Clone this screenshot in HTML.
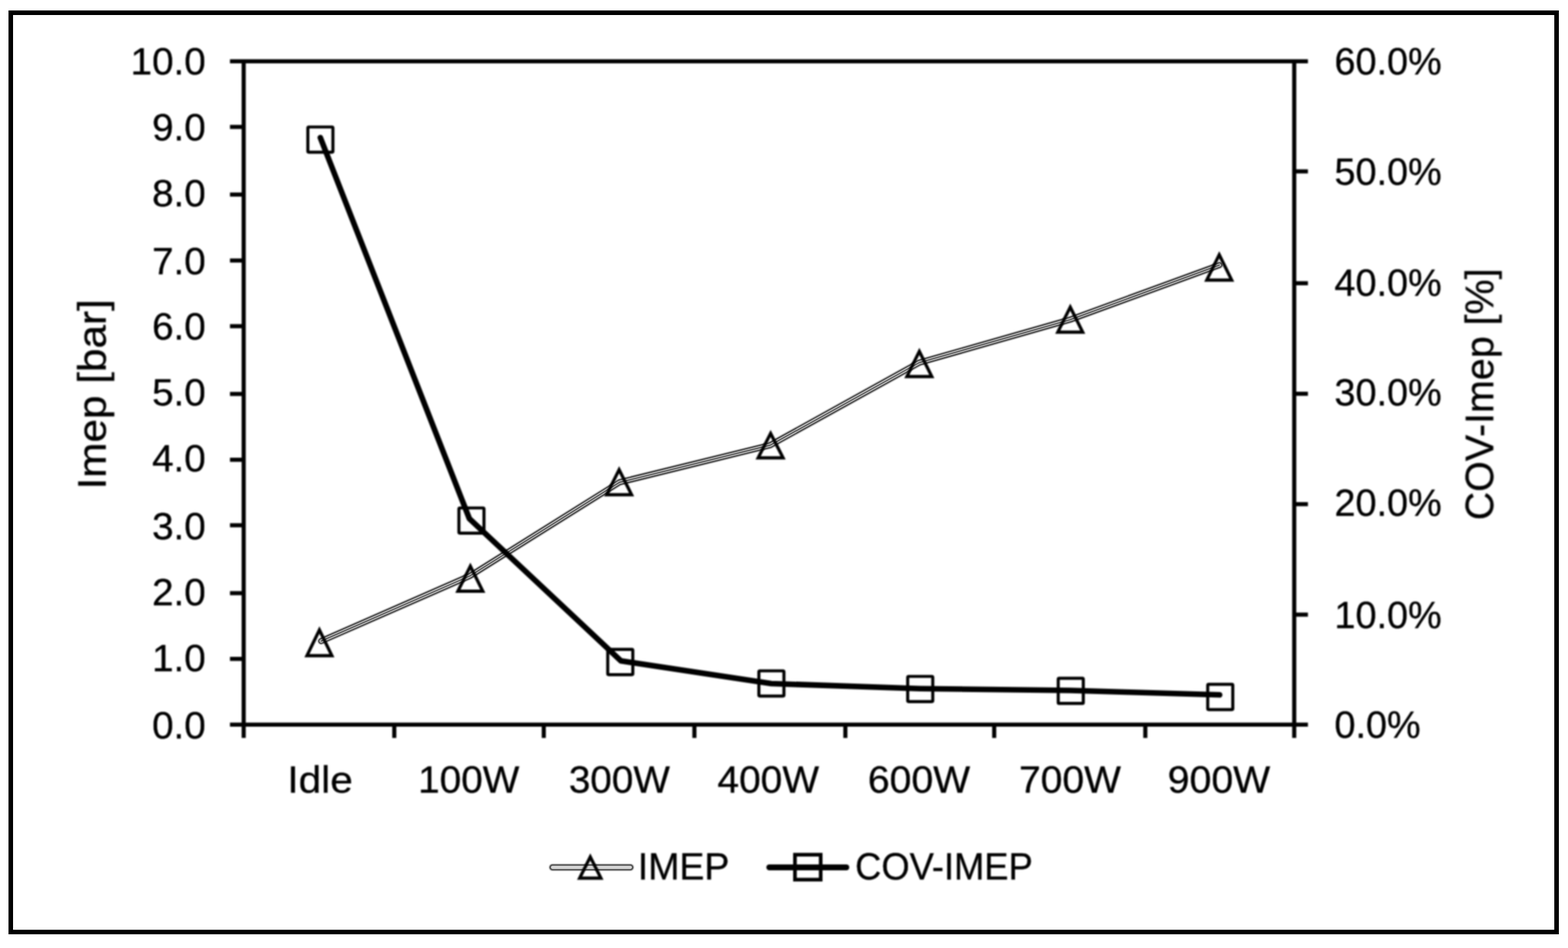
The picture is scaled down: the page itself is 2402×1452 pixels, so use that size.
<!DOCTYPE html>
<html lang="en">
<head>
<meta charset="utf-8">
<title>IMEP and COV-IMEP chart</title>
<style>
html,body{margin:0;padding:0;background:#fff;}
body{width:2402px;height:1452px;overflow:hidden;}
svg{display:block;}
text{font-family:"Liberation Sans", "DejaVu Sans", sans-serif;fill:#000;stroke:#000;stroke-width:0.45px;}
.t{font-size:57.8px;}
.ti{font-size:62px;}
.ax{stroke:#000;stroke-width:6.3;fill:none;stroke-linecap:butt;}
.mk{stroke:#000;fill:none;stroke-linejoin:miter;}
</style>
</head>
<body>
<svg width="2402" height="1452" viewBox="0 0 2402 1452">
<rect x="0" y="0" width="2402" height="1452" fill="#fff"/>
<defs><filter id="soft" filterUnits="userSpaceOnUse" x="0" y="0" width="2402" height="1452"><feGaussianBlur stdDeviation="0.95"/></filter><filter id="soft2" filterUnits="userSpaceOnUse" x="0" y="0" width="2402" height="1452"><feGaussianBlur stdDeviation="0.9"/></filter></defs>
<rect x="16.5" y="19.5" width="2368" height="1408" fill="none" stroke="#000" stroke-width="7"/>
<g filter="url(#soft)">

<g class="ax">
<line x1="352.3" y1="93.9" x2="2003.6" y2="93.9"/>
<line x1="352.3" y1="1109.8" x2="2003.6" y2="1109.8"/>
<line x1="373.3" y1="93.9" x2="373.3" y2="1130.3"/>
<line x1="1982.6" y1="93.9" x2="1982.6" y2="1130.3"/>
<line x1="352.3" y1="194.4" x2="373.3" y2="194.4"/>
<line x1="352.3" y1="298.0" x2="373.3" y2="298.0"/>
<line x1="352.3" y1="399.0" x2="373.3" y2="399.0"/>
<line x1="352.3" y1="499.6" x2="373.3" y2="499.6"/>
<line x1="352.3" y1="603.4" x2="373.3" y2="603.4"/>
<line x1="352.3" y1="704.2" x2="373.3" y2="704.2"/>
<line x1="352.3" y1="804.5" x2="373.3" y2="804.5"/>
<line x1="352.3" y1="908.5" x2="373.3" y2="908.5"/>
<line x1="352.3" y1="1009.2" x2="373.3" y2="1009.2"/>
<line x1="1982.6" y1="262.5" x2="2003.6" y2="262.5"/>
<line x1="1982.6" y1="433.8" x2="2003.6" y2="433.8"/>
<line x1="1982.6" y1="603.1" x2="2003.6" y2="603.1"/>
<line x1="1982.6" y1="772.2" x2="2003.6" y2="772.2"/>
<line x1="1982.6" y1="941.4" x2="2003.6" y2="941.4"/>
<line x1="604.0" y1="1109.8" x2="604.0" y2="1130.3"/>
<line x1="833.0" y1="1109.8" x2="833.0" y2="1130.3"/>
<line x1="1063.75" y1="1109.8" x2="1063.75" y2="1130.3"/>
<line x1="1295.0" y1="1109.8" x2="1295.0" y2="1130.3"/>
<line x1="1523.0" y1="1109.8" x2="1523.0" y2="1130.3"/>
<line x1="1754.5" y1="1109.8" x2="1754.5" y2="1130.3"/>
</g>
<text class="t" text-anchor="end" transform="translate(315.2 114.2) scale(1.0243 1)">10.0</text>
<text class="t" text-anchor="end" transform="translate(315.2 215.3) scale(1.0243 1)">9.0</text>
<text class="t" text-anchor="end" transform="translate(315.2 315.9) scale(1.0243 1)">8.0</text>
<text class="t" text-anchor="end" transform="translate(315.2 419.8) scale(1.0243 1)">7.0</text>
<text class="t" text-anchor="end" transform="translate(315.2 520.3) scale(1.0243 1)">6.0</text>
<text class="t" text-anchor="end" transform="translate(315.2 621.1) scale(1.0243 1)">5.0</text>
<text class="t" text-anchor="end" transform="translate(315.2 721.9) scale(1.0243 1)">4.0</text>
<text class="t" text-anchor="end" transform="translate(315.2 825.9) scale(1.0243 1)">3.0</text>
<text class="t" text-anchor="end" transform="translate(315.2 926.5) scale(1.0243 1)">2.0</text>
<text class="t" text-anchor="end" transform="translate(315.2 1027.8) scale(1.0243 1)">1.0</text>
<text class="t" text-anchor="end" transform="translate(315.2 1131.1) scale(1.0243 1)">0.0</text>
<text class="t" text-anchor="start" transform="translate(2044.3 113.8) scale(1.002 1)">60.0%</text>
<text class="t" text-anchor="start" transform="translate(2044.3 283.3) scale(1.002 1)">50.0%</text>
<text class="t" text-anchor="start" transform="translate(2044.3 452.9) scale(1.002 1)">40.0%</text>
<text class="t" text-anchor="start" transform="translate(2044.3 621.4) scale(1.002 1)">30.0%</text>
<text class="t" text-anchor="start" transform="translate(2044.3 790.1) scale(1.002 1)">20.0%</text>
<text class="t" text-anchor="start" transform="translate(2044.3 961.9) scale(1.002 1)">10.0%</text>
<text class="t" text-anchor="start" transform="translate(2044.3 1130.4) scale(1.002 1)">0.0%</text>
<text class="t" text-anchor="middle" transform="translate(490.4 1214) scale(1.0749 1)">Idle</text>
<text class="t" text-anchor="middle" transform="translate(718.0 1214) scale(1.0273 1)">100W</text>
<text class="t" text-anchor="middle" transform="translate(948.8 1214) scale(1.0253 1)">300W</text>
<text class="t" text-anchor="middle" transform="translate(1176.9 1214) scale(1.0303 1)">400W</text>
<text class="t" text-anchor="middle" transform="translate(1407.8 1214) scale(1.0374 1)">600W</text>
<text class="t" text-anchor="middle" transform="translate(1639.0 1214) scale(1.0334 1)">700W</text>
<text class="t" text-anchor="middle" transform="translate(1867.3 1214) scale(1.0394 1)">900W</text>
<text class="ti" text-anchor="middle" transform="translate(161.9 604.0) rotate(-90) scale(1.044 1)">Imep [bar]</text>
<text class="ti" text-anchor="middle" transform="translate(2287.4 604.0) rotate(-90) scale(0.974 1)">COV-Imep [%]</text>
<text class="t" text-anchor="start" transform="translate(977.0 1347) scale(0.9939 1)">IMEP</text>
<text class="t" text-anchor="start" transform="translate(1310.0 1347) scale(0.9625 1)">COV-IMEP</text>
</g>
<g fill="none" stroke-linejoin="round" stroke-linecap="round" filter="url(#soft2)">
<polyline points="492,981.9 720,882 949,738.7 1180,681.8 1408,555.5 1639,489.7 1868,406" stroke="#000" stroke-width="9.0"/>
<polyline points="492,981.9 720,882 949,738.7 1180,681.8 1408,555.5 1639,489.7 1868,406" stroke="#fff" stroke-width="4.4"/>
<polyline points="492,981.9 720,882 949,738.7 1180,681.8 1408,555.5 1639,489.7 1868,406" stroke="#000" stroke-width="2.0"/>
</g>
<g fill="none" stroke-linejoin="round" stroke-linecap="round" opacity="0.5">
<polyline points="492,981.9 720,882 949,738.7 1180,681.8 1408,555.5 1639,489.7 1868,406" stroke="#2a2a2a" stroke-width="8.6"/>
<polyline points="492,981.9 720,882 949,738.7 1180,681.8 1408,555.5 1639,489.7 1868,406" stroke="#d8d8d8" stroke-width="5.0"/>
<polyline points="492,981.9 720,882 949,738.7 1180,681.8 1408,555.5 1639,489.7 1868,406" stroke="#2a2a2a" stroke-width="1.7"/>
</g>
<g filter="url(#soft)">
<polyline points="490.7,210.7 719,794.4 951.3,1012.3 1181.5,1047 1409.5,1054.7 1640,1057.5 1868.3,1064.3" fill="none" stroke="#000" stroke-width="8.6" stroke-linejoin="round" stroke-linecap="round"/>
<g class="mk" stroke-width="4.9">
<path d="M489.3 964.9 L508.4 1004.25 L470.2 1004.25 Z"/>
<path d="M720.5 867.2 L739.6 905.55 L701.4 905.55 Z"/>
<path d="M948.4 719.4 L967.5 757.75 L929.3 757.75 Z"/>
<path d="M1180.5 663.9 L1199.6 701.25 L1161.4 701.25 Z"/>
<path d="M1408.3 538.15 L1427.4 576.75 L1389.2 576.75 Z"/>
<path d="M1639.5 470.4 L1658.6 508.75 L1620.4 508.75 Z"/>
<path d="M1867.7 390.2 L1886.8 428.95 L1848.6 428.95 Z"/>
</g>
<g class="mk" stroke-width="4.7">
<rect x="471.6" y="194.5" width="38.4" height="38.6" rx="1.5"/>
<rect x="703.0" y="778.0" width="38.4" height="38.6" rx="1.5"/>
<rect x="931.0" y="994.7" width="38.4" height="38.6" rx="1.5"/>
<rect x="1162.5" y="1027.5" width="38.4" height="38.6" rx="1.5"/>
<rect x="1390.5" y="1036.0" width="38.4" height="38.6" rx="1.5"/>
<rect x="1621.1" y="1038.8" width="38.4" height="38.6" rx="1.5"/>
<rect x="1850.1" y="1048.2" width="38.4" height="38.6" rx="1.5"/>
</g>
</g>
<g filter="url(#soft2)">
<line x1="846.3" y1="1328.5" x2="965.7" y2="1328.5" stroke="#000" stroke-width="9.2" stroke-linecap="round"/>
<line x1="846.3" y1="1328.5" x2="965.7" y2="1328.5" stroke="#fff" stroke-width="4.4" stroke-linecap="round"/>
<line x1="846.3" y1="1328.5" x2="965.7" y2="1328.5" stroke="#000" stroke-width="1.0" stroke-linecap="round"/>
</g>
<g opacity="0.5">
<line x1="846.3" y1="1328.5" x2="965.7" y2="1328.5" stroke="#2a2a2a" stroke-width="8.8" stroke-linecap="round"/>
<line x1="846.3" y1="1328.5" x2="965.7" y2="1328.5" stroke="#e4e4e4" stroke-width="4.8" stroke-linecap="round"/>
</g>
<g filter="url(#soft)">
<path class="mk" stroke-width="5" d="M904.25 1312.5 L920.5 1345.0 L888 1345.0 Z"/>
<line x1="1178.5" y1="1328.5" x2="1296.5" y2="1328.5" stroke="#000" stroke-width="9" stroke-linecap="round"/>
<rect class="mk" stroke-width="5.6" x="1217.8" y="1309.1" width="39.4" height="38.2"/>
</g>
</svg>
</body>
</html>
